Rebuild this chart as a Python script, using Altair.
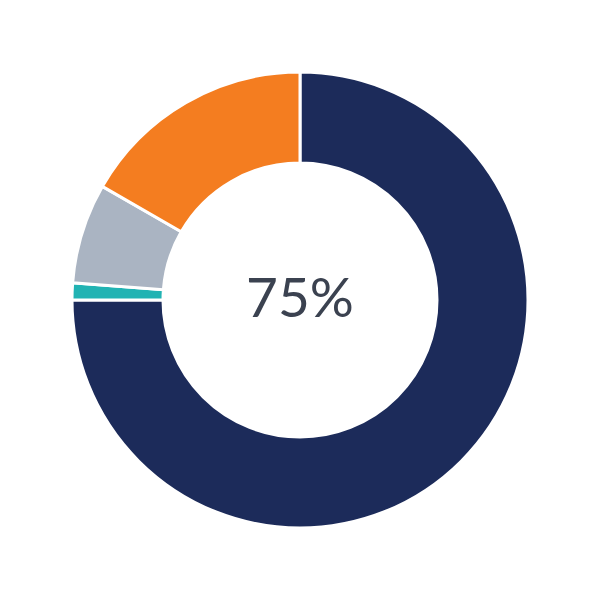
import altair as alt
import pandas as pd

categories = ["A", "B", "C", "D"]
values = [75.0, 1.2, 7.1, 16.7]
colors = ["#1c2b5a", "#21b3b3", "#aab4c2", "#f47d20"]
order = [0, 1, 2, 3]
center_label = ["75%"]

df = pd.DataFrame({"cat": categories, "value": values, "ord": order})

arc = alt.Chart(df).mark_arc(innerRadius=137, outerRadius=228, stroke="white", strokeWidth=3).encode(
    theta=alt.Theta("value:Q", stack=True),
    color=alt.Color("cat:N", scale=alt.Scale(domain=categories, range=colors), legend=None),
    order=alt.Order("ord:Q"),
)

text = alt.Chart(pd.DataFrame({"t": center_label})).mark_text(
    font="Lato", fontSize=55, color="#3b4250", align="center", baseline="middle"
).encode(text="t:N")

chart = alt.layer(arc, text).properties(
    width=584, height=584,
    autosize=alt.AutoSizeParams(type="fit", contains="padding"),
).configure_view(stroke=None)

chart.save("out.html", embed_options={"renderer": "svg", "actions": False})
